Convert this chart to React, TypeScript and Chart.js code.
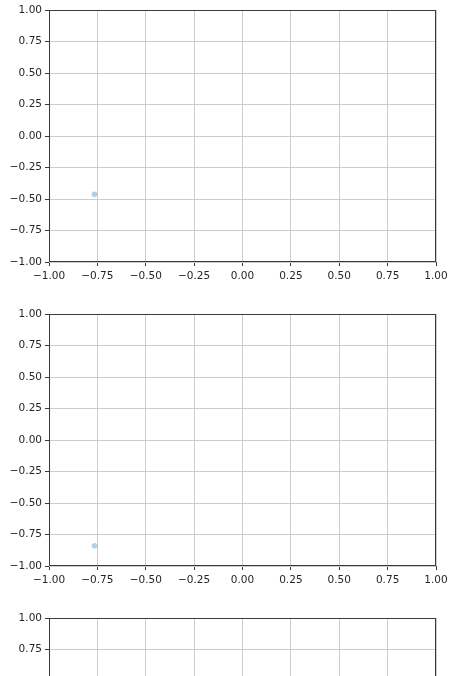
import React, { useEffect, useRef } from "react";
import { Chart, registerables } from "chart.js";

Chart.register(...registerables);

// tick positions shared by both axes
const TICKS = [-1, -0.75, -0.5, -0.25, 0, 0.25, 0.5, 0.75, 1];

// one faint point per panel (third panel shows nothing in view)
const PANEL1_X = [-0.765];
const PANEL1_Y = [-0.463];
const PANEL2_X = [-0.765];
const PANEL2_Y = [-0.84];
const PANEL3_X: number[] = [];
const PANEL3_Y: number[] = [];

const PANELS = [
  { xs: PANEL1_X, ys: PANEL1_Y },
  { xs: PANEL2_X, ys: PANEL2_Y },
  { xs: PANEL3_X, ys: PANEL3_Y },
];

const W = 474;
const H = 290;
const PANEL_STEP = 304;

const fmt = (v: number) => v.toFixed(2).replace("-", "\u2212");

const frameBox = {
  id: "frameBox",
  afterDraw: (chart: Chart) => {
    const { ctx, chartArea } = chart;
    ctx.save();
    ctx.strokeStyle = "#3a3a3a";
    ctx.lineWidth = 1;
    ctx.strokeRect(
      Math.round(chartArea.left) + 0.5,
      Math.round(chartArea.top) + 0.5,
      Math.round(chartArea.right - chartArea.left) - 1,
      Math.round(chartArea.bottom - chartArea.top) - 1
    );
    ctx.restore();
  },
};

const Panel: React.FC<{ xs: number[]; ys: number[]; top: number }> = ({
  xs,
  ys,
  top,
}) => {
  const canvasRef = useRef<HTMLCanvasElement>(null);

  useEffect(() => {
    if (!canvasRef.current) return;
    const font = { family: "'DejaVu Sans', sans-serif", size: 10.5 };
    const axis = (isX: boolean) => ({
      type: "linear" as const,
      min: -1,
      max: 1,
      afterBuildTicks: (scale: any) => {
        scale.ticks = TICKS.map((v) => ({ value: v }));
      },
      afterFit: (scale: any) => {
        if (isX) scale.height = 28;
        else scale.width = 49;
      },
      grid: {
        color: "#cdcdcd",
        lineWidth: 1,
        tickLength: 4,
        tickColor: "#3a3a3a",
      },
      border: { display: false },
      ticks: {
        color: "#262626",
        font,
        padding: isX ? 4 : 3,
        autoSkip: false,
        maxRotation: 0,
        callback: (v: any) => fmt(Number(v)),
      },
    });

    const chart = new Chart(canvasRef.current, {
      type: "scatter",
      data: {
        datasets: [
          {
            data: xs.map((x, i) => ({ x, y: ys[i] })),
            backgroundColor: "rgba(31, 119, 180, 0.35)",
            borderWidth: 0,
            pointRadius: 2.8,
          },
        ],
      },
      options: {
        responsive: false,
        animation: false,
        devicePixelRatio: 1,
        layout: { padding: { top: 10, right: 38, left: 0, bottom: 0 } },
        plugins: { legend: { display: false }, tooltip: { enabled: false } },
        scales: { x: axis(true), y: axis(false) },
      },
      plugins: [frameBox],
    });

    return () => chart.destroy();
  }, [xs, ys]);

  return (
    <canvas
      ref={canvasRef}
      width={W}
      height={H}
      style={{ position: "absolute", left: 0, top, width: W, height: H }}
    />
  );
};

export default function App() {
  return (
    <div
      style={{
        position: "fixed",
        left: 0,
        top: 0,
        width: W,
        height: 676,
        overflow: "hidden",
        background: "#ffffff",
      }}
    >
      {PANELS.map((p, i) => (
        <Panel key={i} xs={p.xs} ys={p.ys} top={i * PANEL_STEP} />
      ))}
    </div>
  );
}
